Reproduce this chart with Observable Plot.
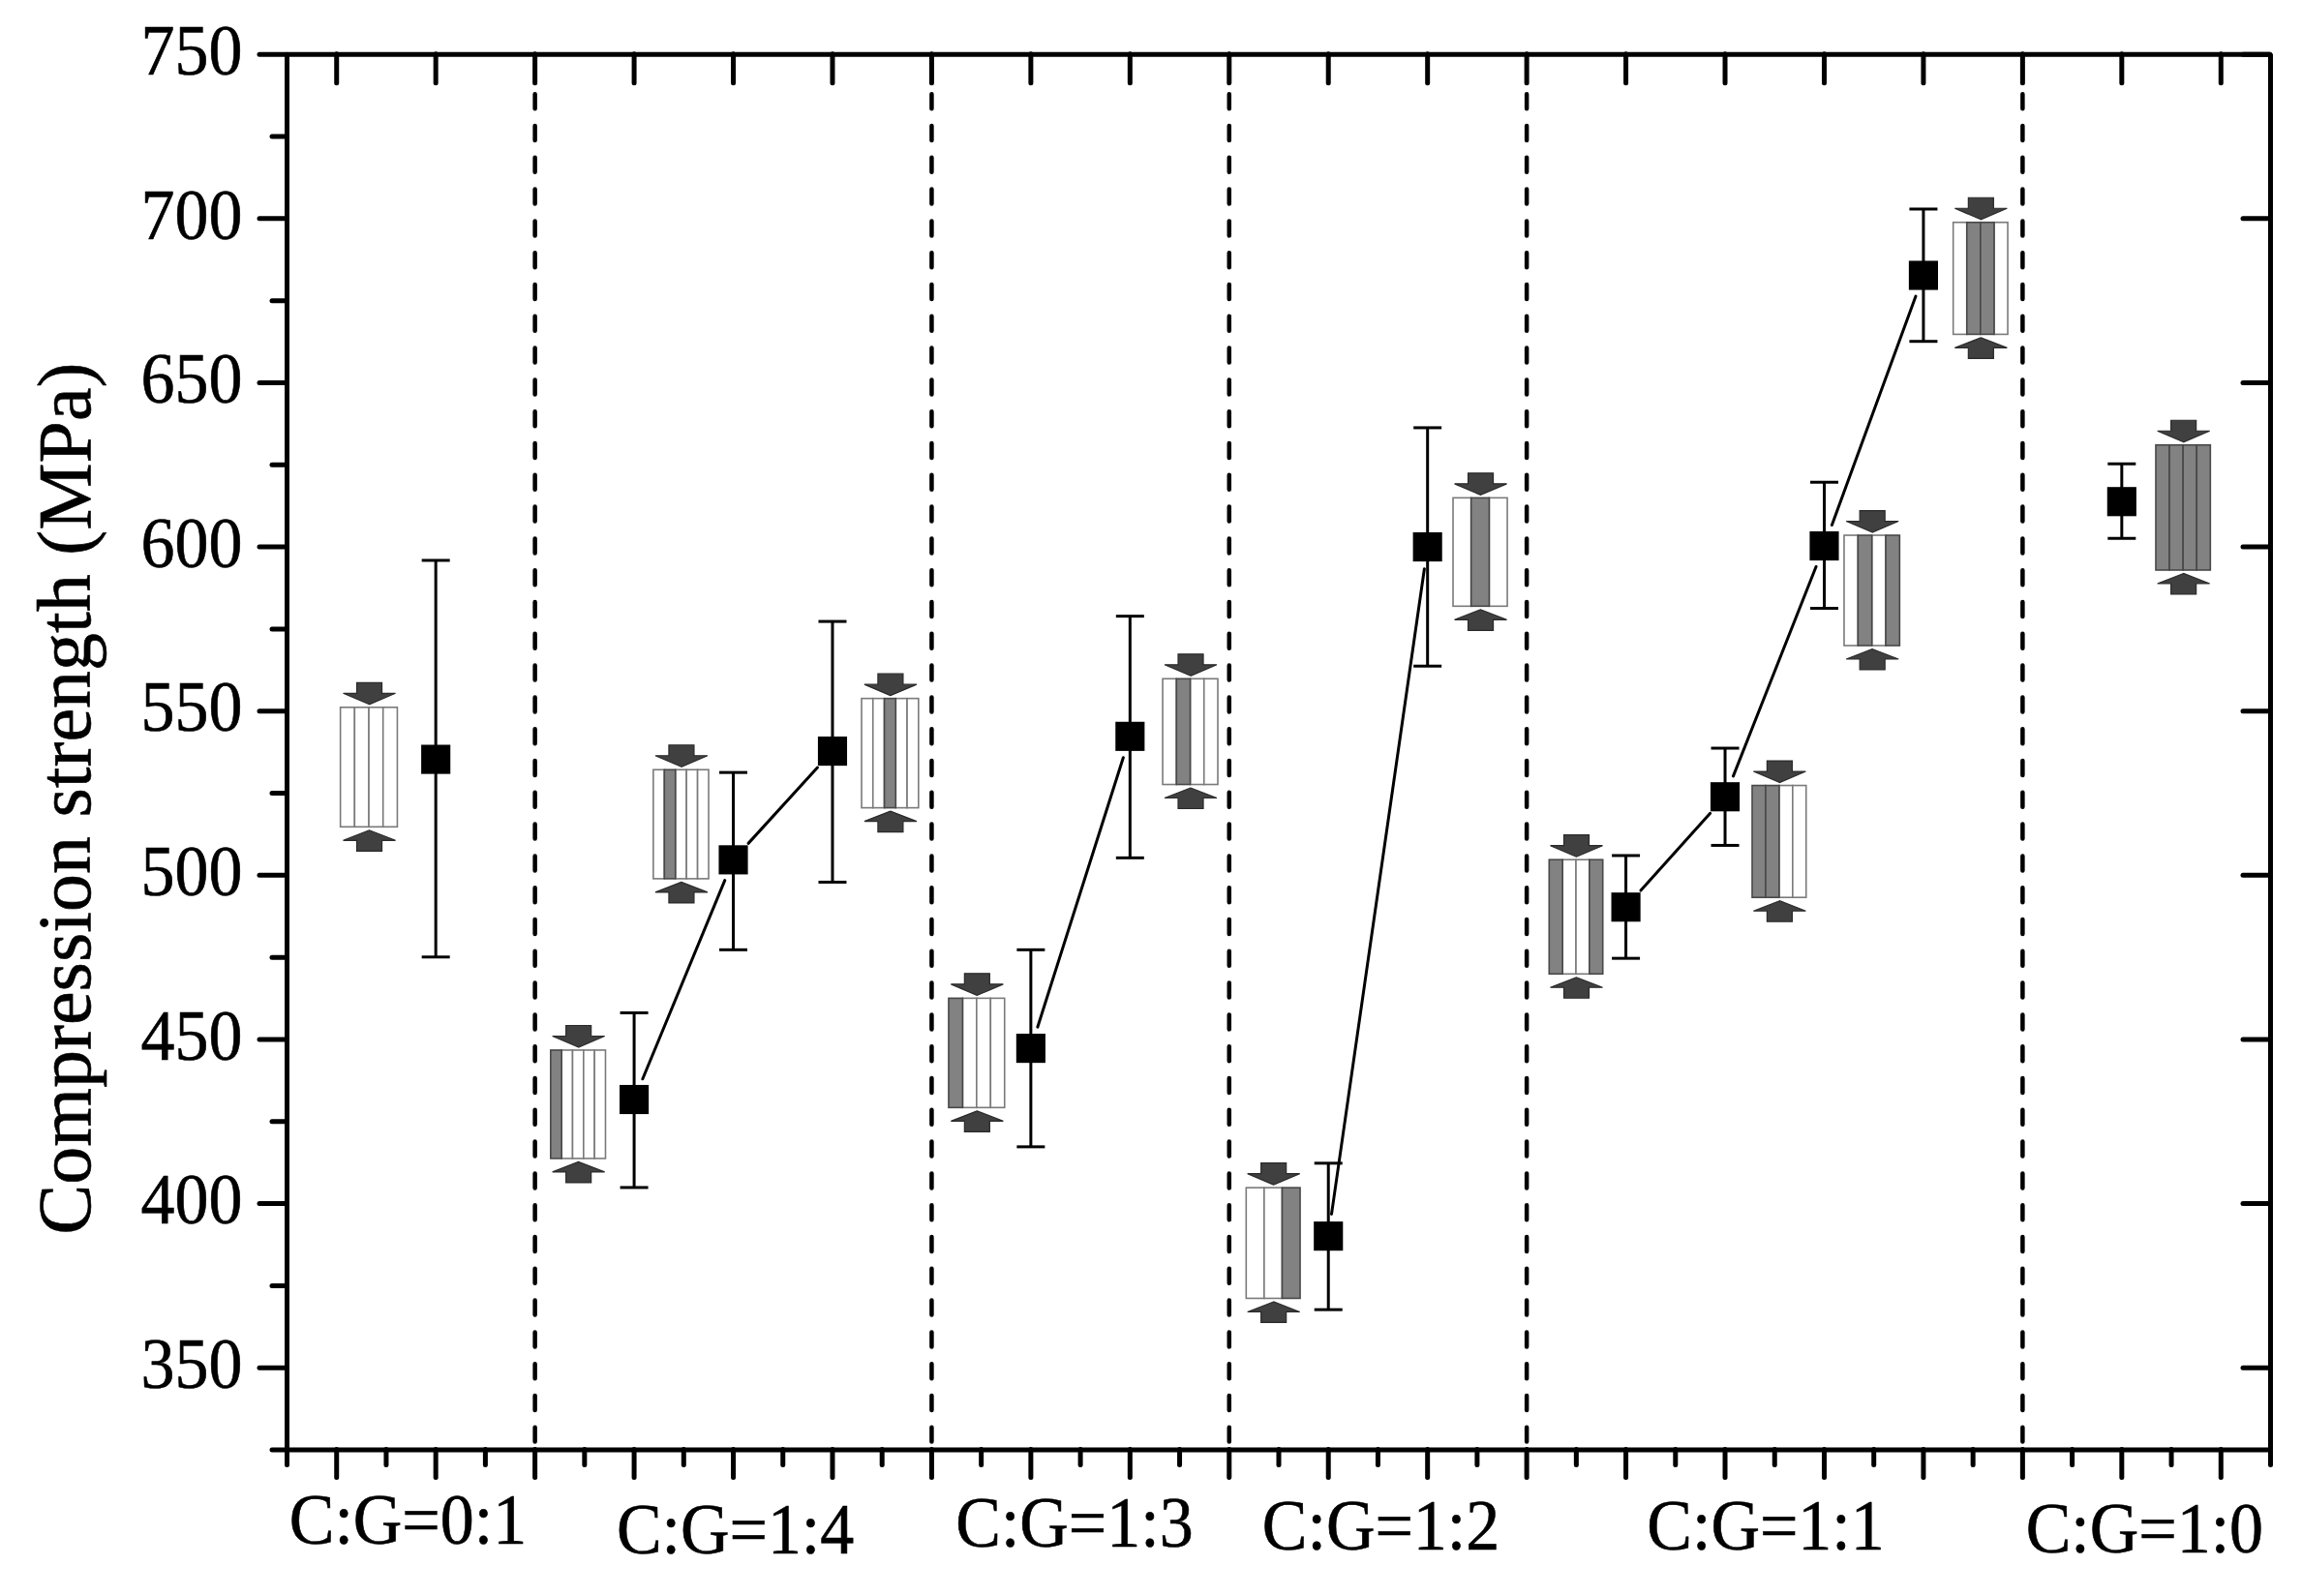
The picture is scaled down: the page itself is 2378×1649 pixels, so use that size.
<!DOCTYPE html>
<html>
<head>
<meta charset="utf-8">
<script src="https://cdn.jsdelivr.net/npm/d3@7"></script>
<script src="https://cdn.jsdelivr.net/npm/@observablehq/plot@0.6"></script>
<style>html,body{margin:0;padding:0;background:#fff}svg{display:block}
svg text{stroke:#000;stroke-width:.6px}</style>
</head>
<body>
<div id="chart"></div>
<script>
// Measured strength: position on the x axis, mean, and error bar ends
const pointX    = [2, 4, 5, 6, 8, 9, 11, 12, 14, 15, 16, 17, 19];
const pointY    = [535.3, 431.7, 504.7, 537.8, 447.3, 542.3, 390.1, 600, 490.3, 523.9, 600.3, 682.7, 613.8];
const errTop    = [595.9, 458.1, 531.3, 577.3, 477.3, 578.9, 412.3, 636.3, 506, 538.7, 619.7, 702.9, 625.3];
const errBottom = [475.1, 404.9, 477.3, 497.9, 417.3, 505.3, 367.7, 563.7, 474.7, 509.1, 581.3, 662.6, 602.6];
// Pairs of indices into the series joined by a line
const segments  = [[1,2],[2,3],[4,5],[6,7],[8,9],[9,10],[10,11]];

// Specimen sketches: extent in data units, and stripe pattern (1 = grey, 0 = white)
const boxLeft    = [1.043, 3.163, 4.198, 6.298, 7.176, 9.334, 10.176, 12.262, 13.231, 15.278, 16.205, 17.305, 19.348];
const boxRight   = [1.617, 3.716, 4.756, 6.872, 7.74, 9.89, 10.72, 12.809, 13.772, 15.822, 16.765, 17.855, 19.898];
const boxTop     = [551, 446.6, 532, 553.7, 462.4, 559.7, 404.7, 614.8, 504.6, 527.2, 603.4, 698.7, 630.9];
const boxBottom  = [514.6, 413.6, 498.8, 520.4, 429.1, 527.5, 371, 581.8, 469.8, 493.1, 569.8, 664.6, 592.8];
const boxPattern = ["0000","10000","01000","00100","1000","0100","001","010","1001","1100","0101","0110","1111"];

// Separators and group labels
const separators = [3, 7, 10, 13, 18];
const groupNames = ["C:G=0:1","C:G=1:4","C:G=1:3","C:G=1:2","C:G=1:1","C:G=1:0"];
const groupX     = [1.72, 5.02, 8.44, 11.53, 15.41, 19.23];
const groupY     = [303.5, 300.3, 302.6, 301.7, 301.7, 300.8];

// Axes
const yMajor = [350,400,450,500,550,600,650,700,750];
const yMinor = [325,375,425,475,525,575,625,675,725];
const xMajor = d3.range(1, 21);
const xMinor = d3.range(0.5, 21, 1);
const yTitle = "Compression strength (MPa)";

const series = pointX.map((x,i)=>({x, y:pointY[i], top:errTop[i], bottom:errBottom[i]}));
const links = segments.map(([a,b])=>({x1:pointX[a], y1:pointY[a], x2:pointX[b], y2:pointY[b]}));
const boxes = boxLeft.map((l,i)=>({l, r:boxRight[i], top:boxTop[i], bottom:boxBottom[i], mid:(l+boxRight[i])/2, p:boxPattern[i]}));
const stripes = boxes.flatMap(b=>{
  const w=(b.r-b.l)/b.p.length;
  return Array.from(b.p,(c,j)=>({x1:b.l+j*w, x2:b.l+(j+1)*w, y1:b.bottom, y2:b.top, dark:c==="1"}));
});
const groups = groupNames.map((t,i)=>({t, x:groupX[i], y:groupY[i]}));

const W=2378,H=1649,ML=296,MR=33,MT=55.7,MB=151.5;
const frameW=W-ML-MR, frameH=H-MT-MB;

// Arrow glyphs: pressing down onto the top and up onto the bottom of each sketch
const arrowDown={draw(c){c.moveTo(0,-3.5);c.lineTo(-27,-15);c.lineTo(-13,-15);c.lineTo(-13,-26);c.lineTo(13,-26);c.lineTo(13,-15);c.lineTo(27,-15);c.closePath();}};
const arrowUp={draw(c){c.moveTo(0,3);c.lineTo(-27,13.5);c.lineTo(-13,13.5);c.lineTo(-13,24.5);c.lineTo(13,24.5);c.lineTo(13,13.5);c.lineTo(27,13.5);c.closePath();}};
const cap={draw(c){c.moveTo(-14.5,0);c.lineTo(14.5,0);}};

const serif="'Liberation Serif','Times New Roman',serif";

const chart=Plot.plot({
  width:W,height:H,marginLeft:ML,marginRight:MR,marginTop:MT,marginBottom:MB,
  style:{background:"#fff",fontFamily:serif,color:"#000",overflow:"visible"},
  x:{domain:[0.5,20.5],axis:null},
  y:{domain:[325,750],axis:null},
  marks:[
    // separators
    Plot.ruleX(separators,{stroke:"#000",strokeWidth:4.5,strokeDasharray:"15,17.8",strokeLinecap:"round",insetTop:41.5,insetBottom:8}),
    // spec sketches
    Plot.rect(stripes.filter(d=>!d.dark),{x1:"x1",x2:"x2",y1:"y1",y2:"y2",fill:"#fff",stroke:"#7a7a7a",strokeWidth:1.6}),
    Plot.rect(stripes.filter(d=>d.dark),{x1:"x1",x2:"x2",y1:"y1",y2:"y2",fill:"#828282",stroke:"#484848",strokeWidth:1.6}),
    Plot.dot(boxes,{x:"mid",y:"top",symbol:arrowDown,r:10,fill:"#404040",stroke:"#2a2a2a",strokeWidth:1.2}),
    Plot.dot(boxes,{x:"mid",y:"bottom",symbol:arrowUp,r:10,fill:"#404040",stroke:"#2a2a2a",strokeWidth:1.2}),
    // connecting lines with a gap at each marker
    Plot.arrow(links,{x1:"x1",y1:"y1",x2:"x2",y2:"y2",headLength:0,inset:23,stroke:"#000",strokeWidth:3}),
    // error bars
    Plot.ruleX(series,{x:"x",y1:"bottom",y2:"top",stroke:"#000",strokeWidth:3}),
    Plot.dot(series,{x:"x",y:"top",symbol:cap,r:10,stroke:"#000",strokeWidth:3}),
    Plot.dot(series,{x:"x",y:"bottom",symbol:cap,r:10,stroke:"#000",strokeWidth:3}),
    Plot.dot(series,{x:"x",y:"y",symbol:"square",r:17,fill:"#000",stroke:"none"}),
    // axes
    Plot.axisY(yMajor,{anchor:"left",tickSize:28,strokeWidth:5,strokeLinecap:"round",fill:"none",label:null}),
    Plot.axisY(yMinor,{anchor:"left",tickSize:15,strokeWidth:5,strokeLinecap:"round",fill:"none",label:null}),
    Plot.axisY(yMajor,{anchor:"left",tickSize:0,tickPadding:46,fontSize:74,dy:-3,label:null,fill:"#000",className:"squeeze"}),
    Plot.axisX(xMajor,{anchor:"bottom",tickSize:29,strokeWidth:5,strokeLinecap:"round",fill:"none",label:null}),
    Plot.axisX(xMinor,{anchor:"bottom",tickSize:16,strokeWidth:5,strokeLinecap:"round",fill:"none",label:null}),
    // inward ticks on top and right
    Plot.ruleX(xMajor,{stroke:"#000",strokeWidth:5,strokeLinecap:"round",insetBottom:frameH-30}),
    Plot.ruleY(yMajor,{stroke:"#000",strokeWidth:5,strokeLinecap:"round",insetLeft:frameW-28}),
    // frame
    Plot.ruleX([0.5,20.5],{stroke:"#000",strokeWidth:5}),
    Plot.ruleY([325,750],{stroke:"#000",strokeWidth:5}),
    // text
    Plot.text(groups,{x:"x",y:"y",text:"t",fontSize:74,fill:"#000",className:"squeeze"}),
    Plot.text([yTitle],{frameAnchor:"left",textAnchor:"middle",text:d=>d,rotate:-90,fontSize:78,dx:-228,dy:48,fill:"#000"})
  ]
});
document.getElementById("chart").appendChild(chart);
// The reference's type is slightly condensed: narrow the real text without changing its height
chart.querySelectorAll(".squeeze text").forEach(t=>{
  t.setAttribute("lengthAdjust","spacingAndGlyphs");
  t.setAttribute("textLength",t.getComputedTextLength()*0.945);
});
</script>
</body>
</html>
